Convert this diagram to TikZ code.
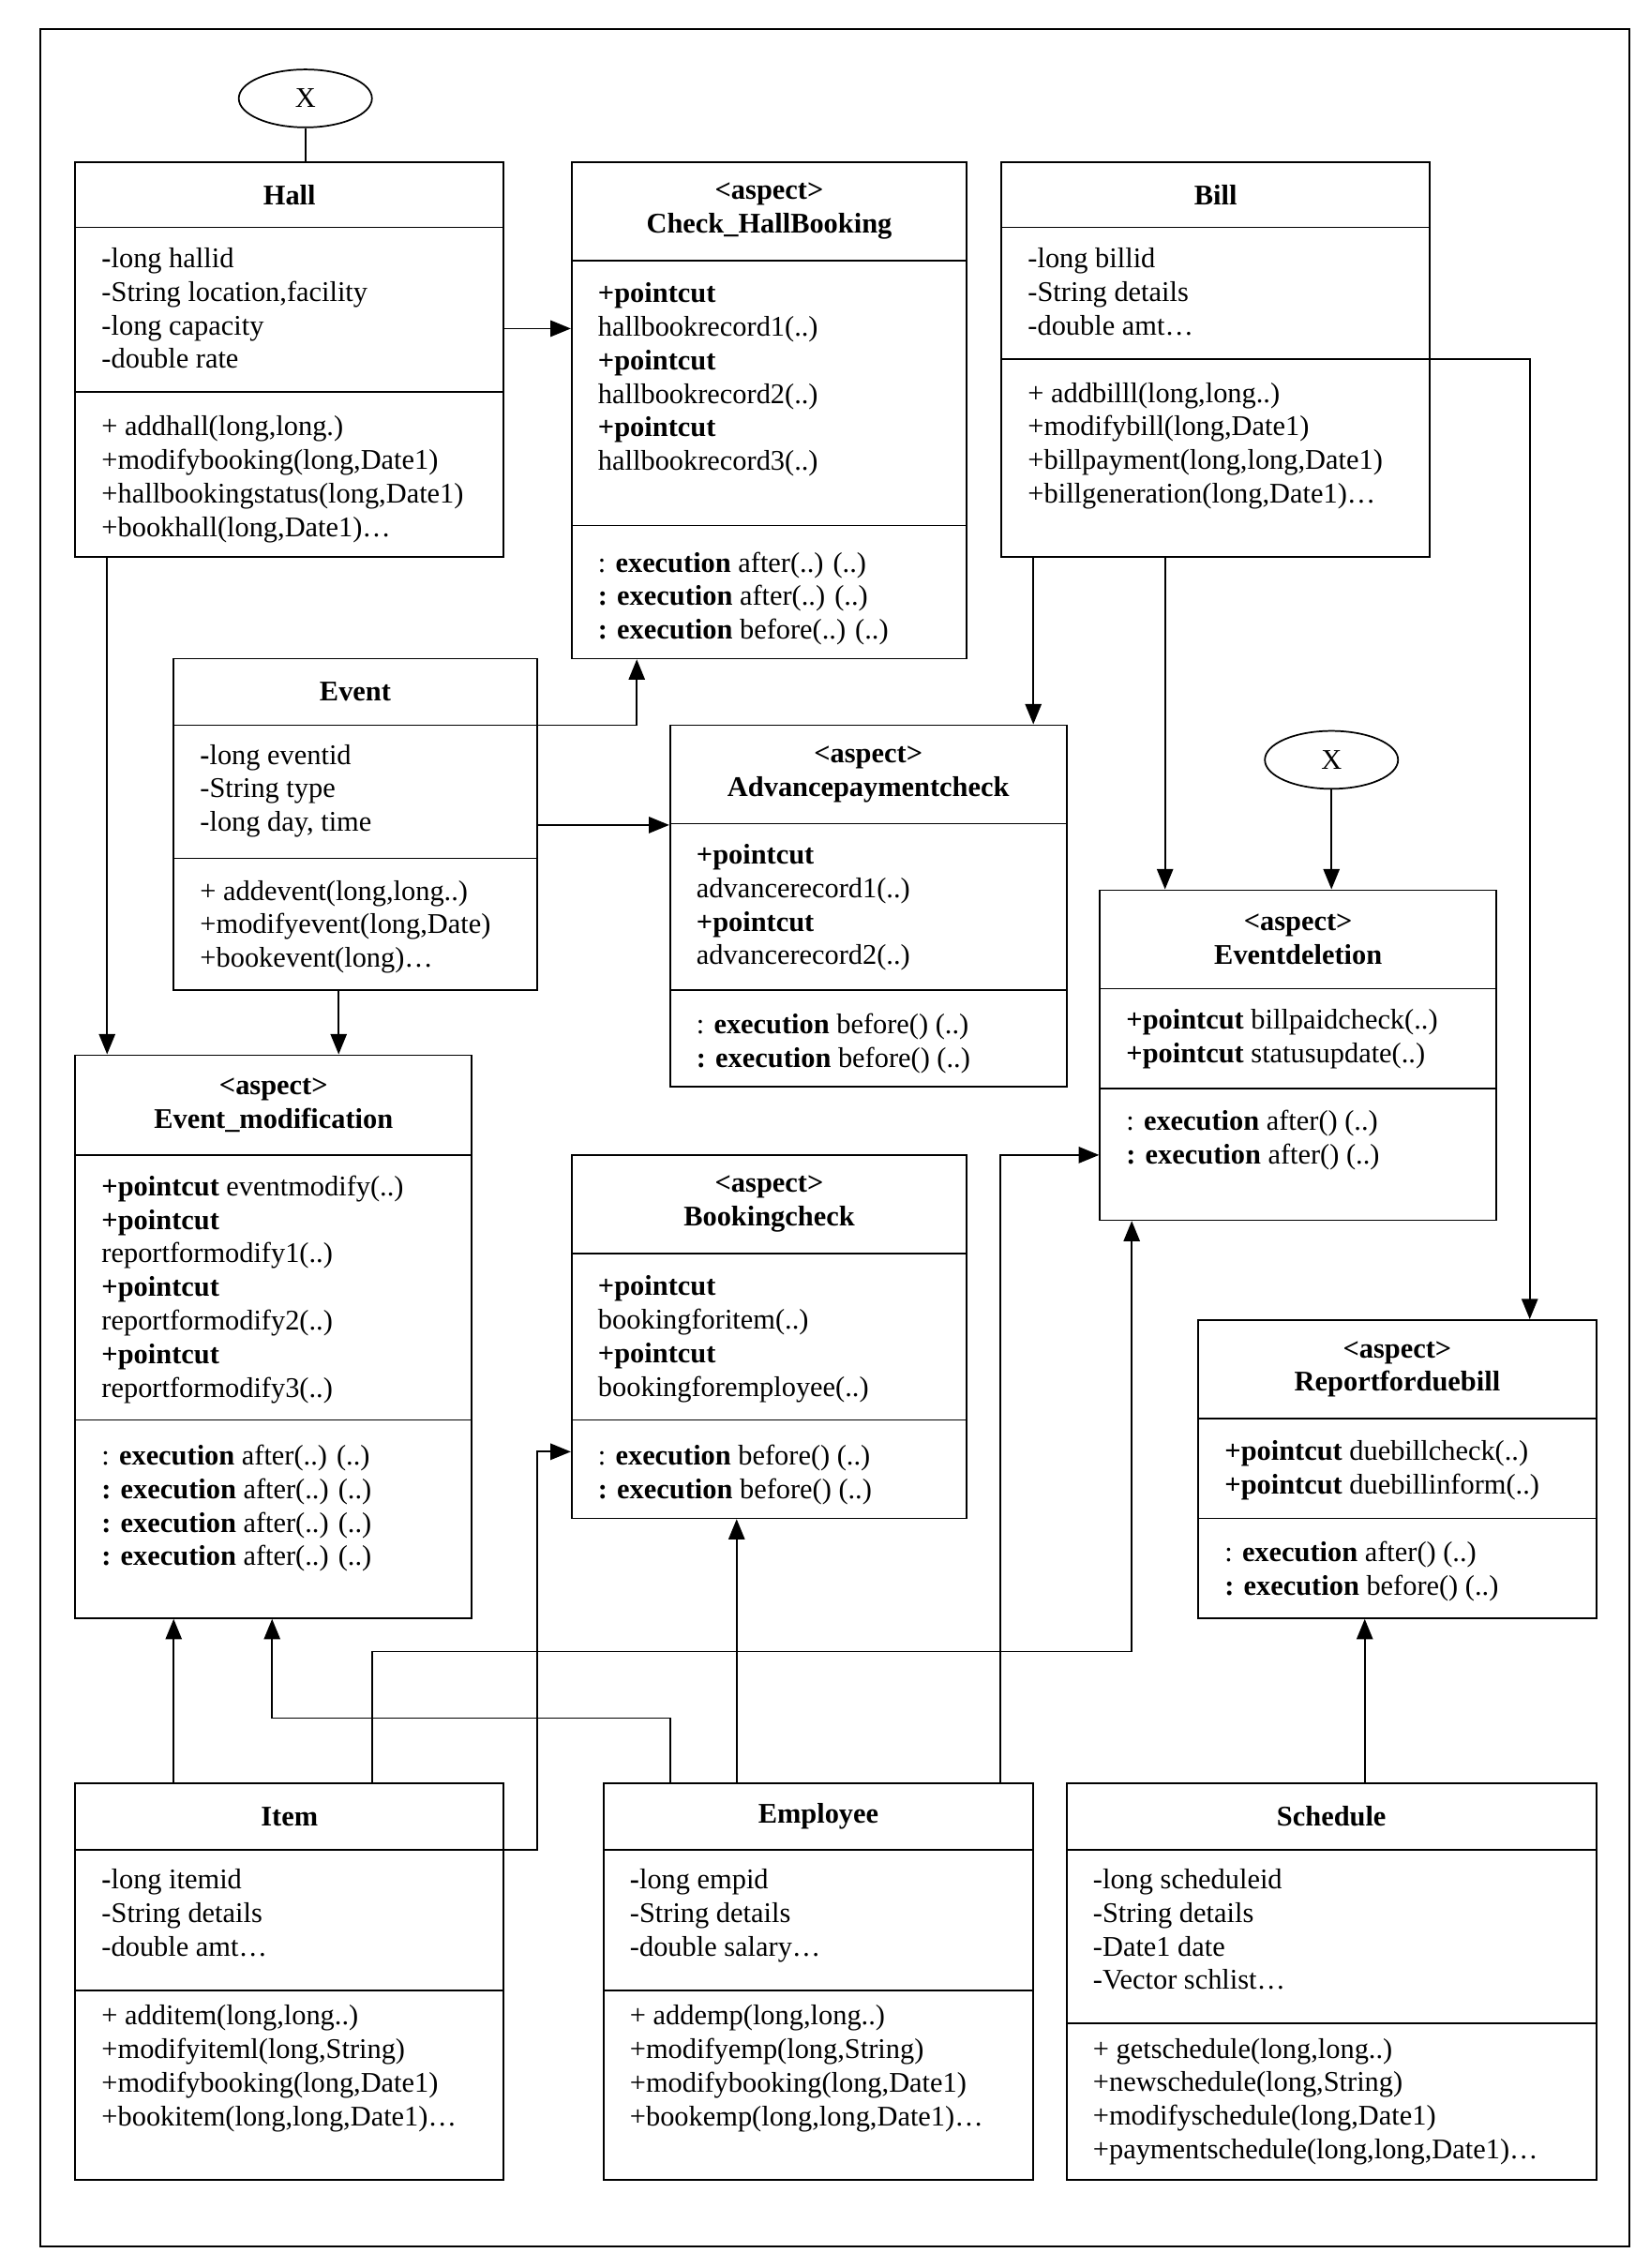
\documentclass[tikz,border=0pt]{standalone}
\usepackage{fontspec}
\setmainfont{Liberation Serif}
\usetikzlibrary{arrows.meta, fit, shapes.geometric}
\tikzstyle{arrow} = [thick,-{Triangle[length=10pt,width=8pt]}]
\tikzstyle{link} = [thick]
\tikzstyle{cls} = [draw, thick, inner sep=0pt]
\tikzstyle{ttl} = [font=\fontsize{14}{16.5}\selectfont\bfseries, align=center]
\tikzstyle{txt} = [anchor=north west, align=left, inner sep=0pt]
\tikzstyle{actor} = [ellipse, draw, thick, minimum width=2.3cm, minimum height=1cm]
% box: name, x1, y1, x2, y2, divider 1, divider 2, title
\newcommand{\umlbox}[8]{
  \node (#1) [cls, fit={(#2,#3) (#4,#5)}] {};
  \draw[thick] (#2,#6) -- (#4,#6);
  \draw[thick] (#2,#7) -- (#4,#7);
  \node[ttl] at ({(#2+#4)/2},{(#3+#6)/2}) {#8};
}
\begin{document}
\begin{tikzpicture}[x=0.025cm, y=-0.025cm, font=\fontsize{14}{16.5}\selectfont]
\useasboundingbox (0,0) rectangle (1140,1567);
\draw[thick] (28,20) rectangle (1126,1552);

% classes and aspects
\umlbox{hall}{52}{112}{348}{385}{157}{271}{Hall}
\node[txt] at (70,171) {\textbf{-}long hallid\\-String location,facility\\-long capacity\\-double rate};
\node[txt] at (70,287) {+ addhall(long,long.)\\+modifybooking(long,Date1)\\+hallbookingstatus(long,Date1)\\+bookhall(long,Date1)\ldots};

\umlbox{check}{395}{112}{668}{455}{180}{363}{<aspect>\\Check\_HallBooking}
\node[txt] at (413,195) {\textbf{+pointcut}\\hallbookrecord1(..)\\\textbf{+pointcut}\\hallbookrecord2(..)\\\textbf{+pointcut}\\hallbookrecord3(..)};
\node[txt] at (413,381) {: \textbf{execution} after(..) (..)\\\textbf{: execution} after(..) (..)\\\textbf{: execution} before(..) (..)};

\umlbox{bill}{692}{112}{988}{385}{157}{248}{Bill}
\node[txt] at (710,171) {-long billid\\-String details\\-double amt\ldots};
\node[txt] at (710,264) {+ addbilll(long,long..)\\+modifybill(long,Date1)\\+billpayment(long,long,Date1)\\+billgeneration(long,Date1)\ldots};

\umlbox{event}{120}{455}{371}{684}{501}{593}{Event}
\node[txt] at (138,514) {\textbf{-}long eventid\\-String type\\-long day, time};
\node[txt] at (138,608) {+ addevent(long,long..)\\+modifyevent(long,Date)\\+bookevent(long)\ldots};

\umlbox{advance}{463}{501}{737}{751}{569}{684}{<aspect>\\Advancepaymentcheck}
\node[txt] at (481,583) {\textbf{+pointcut}\\advancerecord1(..)\\\textbf{+pointcut}\\advancerecord2(..)};
\node[txt] at (481,700) {: \textbf{execution} before() (..)\\\textbf{: execution} before() (..)};

\umlbox{deletion}{760}{615}{1034}{843}{683}{752}{<aspect>\\Eventdeletion}
\node[txt] at (778,697) {\textbf{+pointcut} billpaidcheck(..)\\\textbf{+pointcut} statusupdate(..)};
\node[txt] at (778,767) {: \textbf{execution} after() (..)\\\textbf{: execution} after() (..)};

\umlbox{modif}{52}{729}{326}{1118}{798}{981}{<aspect>\\Event\_modification}
\node[txt] at (70,812) {\textbf{+pointcut} eventmodify(..)\\\textbf{+pointcut}\\reportformodify1(..)\\\textbf{+pointcut}\\reportformodify2(..)\\\textbf{+pointcut}\\reportformodify3(..)};
\node[txt] at (70,998) {: \textbf{execution} after(..) (..)\\\textbf{: execution} after(..) (..)\\\textbf{: execution} after(..) (..)\\\textbf{: execution} after(..) (..)};

\umlbox{booking}{395}{798}{668}{1049}{866}{981}{<aspect>\\Bookingcheck}
\node[txt] at (413,881) {\textbf{+pointcut}\\bookingforitem(..)\\\textbf{+pointcut}\\bookingforemployee(..)};
\node[txt] at (413,998) {: \textbf{execution} before() (..)\\\textbf{: execution} before() (..)};

\umlbox{report}{828}{912}{1103}{1118}{980}{1049}{<aspect>\\Reportforduebill}
\node[txt] at (846,995) {\textbf{+pointcut} duebillcheck(..)\\\textbf{+pointcut} duebillinform(..)};
\node[txt] at (846,1065) {: \textbf{execution} after() (..)\\\textbf{: execution} before() (..)};

\umlbox{item}{52}{1232}{348}{1506}{1278}{1375}{Item}
\node[txt] at (70,1291) {\textbf{-}long itemid\\-String details\\-double amt\ldots};
\node[txt] at (70,1385) {+ additem(long,long..)\\+modifyiteml(long,String)\\+modifybooking(long,Date1)\\+bookitem(long,long,Date1)\ldots};

\umlbox{employee}{417}{1232}{714}{1506}{1278}{1375}{Employee}
\node[txt] at (435,1291) {\textbf{-}long empid\\-String details\\-double salary\ldots};
\node[txt] at (435,1385) {+ addemp(long,long..)\\+modifyemp(long,String)\\+modifybooking(long,Date1)\\+bookemp(long,long,Date1)\ldots};

\umlbox{schedule}{737}{1232}{1103}{1506}{1278}{1398}{Schedule}
\node[txt] at (755,1291) {-long scheduleid\\-String details\\-Date1 date\\-Vector schlist\ldots};
\node[txt] at (755,1408) {+ getschedule(long,long..)\\+newschedule(long,String)\\+modifyschedule(long,Date1)\\+paymentschedule(long,long,Date1)\ldots};

% actors
\node (x1) [actor] at (211,68) {X};
\node (x2) [actor] at (920,525) {X};

% connectors
\draw [link] (x1) -- (hall.north -| x1);
\draw [arrow] (x2) -- (deletion.north -| x2);
\draw [arrow] (hall.east |- 0,227) -- (check.west |- 0,227);
\draw [arrow] (hall.south -| 74,0) -- (modif.north -| 74,0);
\draw [arrow] (event.east |- 0,501) -| (check.south -| 440,0);
\draw [arrow] (event.east |- 0,570) -- (advance.west |- 0,570);
\draw [arrow] (event.south -| 234,0) -- (modif.north -| 234,0);
\draw [arrow] (bill.south -| 714,0) -- (advance.north -| 714,0);
\draw [arrow] (bill.south -| 805,0) -- (deletion.north -| 805,0);
\draw [arrow] (bill.east |- 0,248) -| (report.north -| 1057,0);
\draw [arrow] (item.north -| 120,0) -- (modif.south -| 120,0);
\draw [arrow] (item.east |- 0,1278) -- (371,1278) -- (371,1003) -- (booking.west |- 0,1003);
\draw [arrow] (item.north -| 257,0) -- (257,1141) -| (deletion.south -| 782,0);
\draw [arrow] (employee.north -| 463,0) -- (463,1187) -| (modif.south -| 188,0);
\draw [arrow] (employee.north -| 509,0) -- (booking.south -| 509,0);
\draw [arrow] (employee.north -| 691,0) |- (deletion.west |- 0,798);
\draw [arrow] (schedule.north -| 943,0) -- (report.south -| 943,0);
\end{tikzpicture}
\end{document}
